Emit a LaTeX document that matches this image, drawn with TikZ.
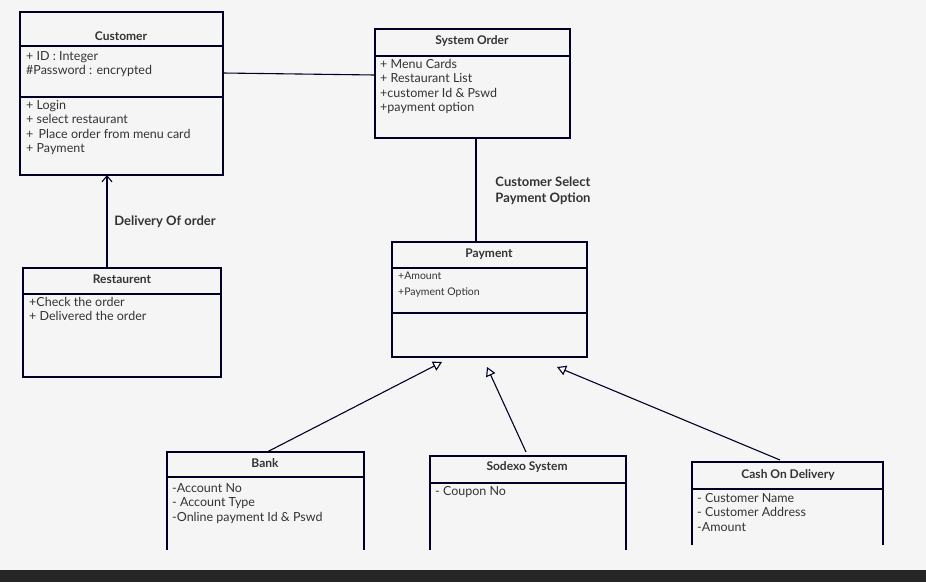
\documentclass[tikz,border=0pt]{standalone}
\usepackage{fontspec}
\setmainfont{Lato}
\usetikzlibrary{arrows.meta}
\begin{document}
\begin{tikzpicture}[x=1pt,y=-1pt,
  ln/.style={draw=black!85!blue,line width=1.1pt},
  ttl/.style={font=\fontsize{12}{14}\selectfont\bfseries,text=black!80},
  txt/.style={font=\fontsize{12.5}{14.5}\selectfont,text=black!80,align=left,anchor=north west,inner sep=0pt},
  lbl/.style={font=\fontsize{13}{16}\selectfont\bfseries,text=black!80,align=left}]
\fill[gray!8] (0,0) rectangle (926,582);
\fill[black!85] (0,570) rectangle (926,582);
\useasboundingbox (0,0) rectangle (926,582);
% Customer
\draw[ln] (20,12) rectangle (223,175); \draw[ln] (20,46)--(223,46); \draw[ln] (20,97)--(223,97);
\node[ttl] (cust) at (121,36) {Customer};
\node[txt] (custa) at (26,51) {+ ID : Integer\\\#Password : encrypted};
\node[txt] (custm) at (26,100) {+ Login\\+ select restaurant\\+ \,Place order from menu card\\+ Payment};
\coordinate (cR) at (223,73); \coordinate (cB) at (107,175);
% System Order
\draw[ln] (375,29) rectangle (570,138); \draw[ln] (375,56)--(570,56);
\node[ttl] (so) at (472,41) {System Order};
\node[txt] (soa) at (380,59) {+ Menu Cards\\+ Restaurant List\\+customer Id \& Pswd\\+payment option};
\coordinate (sL) at (375,75); \coordinate (sB) at (476,138);
% Payment
\draw[ln] (392,242) rectangle (587,357); \draw[ln] (392,268)--(587,268); \draw[ln] (392,313)--(587,313);
\node[ttl] (pay) at (489,254) {Payment};
\node[txt,font=\fontsize{10.5}{16}\selectfont] (paya) at (398,272) {+Amount\\+Payment Option};
\coordinate (pT) at (476,242);
% Restaurent
\draw[ln] (23,268) rectangle (221,377); \draw[ln] (23,294)--(221,294);
\node[ttl] (rest) at (122,279) {Restaurent};
\node[txt] (resta) at (29,297) {+Check the order\\+ Delivered the order};
\coordinate (rT) at (107,268);
% Bank
\draw[ln] (167,550)--(167,452)--(364,452)--(364,550); \draw[ln] (167,477)--(364,477);
\node[ttl] (bank) at (265,463) {Bank};
\node[txt] (banka) at (172,483) {-Account No\\- Account Type\\-Online payment Id \& Pswd};
\coordinate (bT) at (267,452);
% Sodexo
\draw[ln] (430,550)--(430,456)--(626,456)--(626,550); \draw[ln] (430,483)--(626,483);
\node[ttl] (sod) at (527,467) {Sodexo System};
\node[txt] (soda) at (435,486) {- Coupon No};
\coordinate (sdT) at (526,452);
% Cash
\draw[ln] (692,545)--(692,462)--(883,462)--(883,545); \draw[ln] (692,489)--(883,489);
\node[ttl] (cod) at (788,475) {Cash On Delivery};
\node[txt] (coda) at (697,493) {- Customer Name\\- Customer Address\\-Amount};
\coordinate (cdT) at (780,460);
% connectors
\draw[ln] (cR)--(sL);
\draw[ln] (sB)--(pT);
\node[lbl] (csp) at (543,191) {Customer Select\\Payment Option};
\draw[ln,-{Straight Barb[length=6pt,width=10pt]}] (rT)--(cB);
\node[lbl] (dlv) at (165,222) {Delivery Of order};
\draw[ln,-{Triangle[open,length=9pt,width=10pt,fill=white]}] (bT)--(442,362);
\draw[ln,-{Triangle[open,length=9pt,width=10pt,fill=white]}] (sdT)--(487,367);
\draw[ln,-{Triangle[open,length=9pt,width=10pt,fill=white]}] (cdT)--(557,367);
\end{tikzpicture}
\end{document}
